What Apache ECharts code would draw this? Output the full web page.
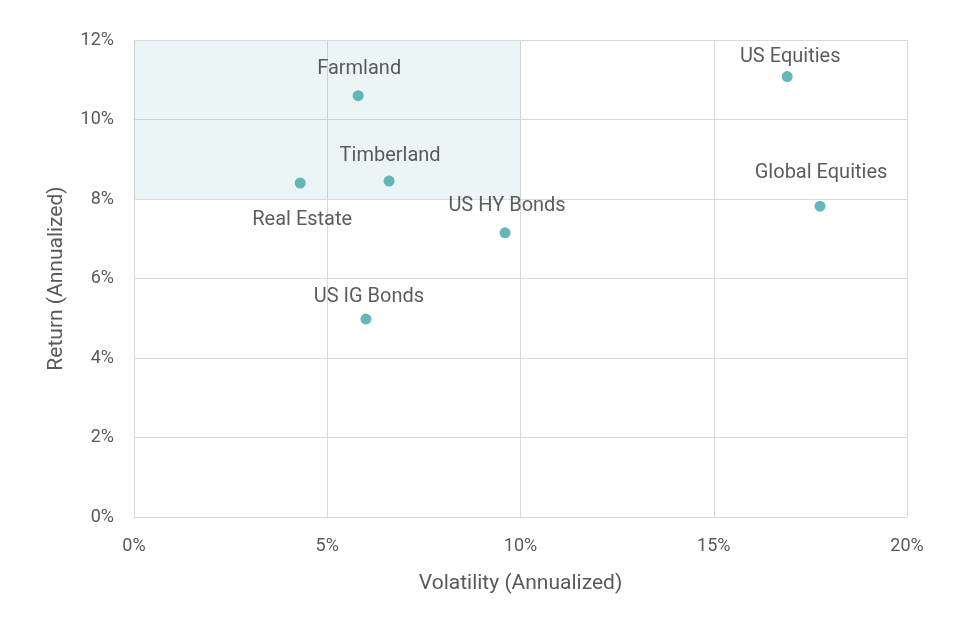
<!DOCTYPE html>
<html>
<head>
<meta charset="utf-8">
<script src="https://cdn.jsdelivr.net/npm/echarts@6/dist/echarts.min.js"></script>
<style>
  html, body { margin: 0; padding: 0; background: #fff; }
  #main { width: 974px; height: 626px; }
</style>
</head>
<body>
<div id="main"></div>
<script>
// asset classes, volatility and return (annualized, %)
var names = ['Farmland', 'Timberland', 'Real Estate', 'US HY Bonds', 'US IG Bonds', 'US Equities', 'Global Equities'];
var volatility = [5.8, 6.6, 4.3, 9.6, 6.0, 16.9, 17.75];
var returns = [10.6, 8.45, 8.4, 7.15, 4.98, 11.08, 7.82];

var xTicks = [0, 5, 10, 15, 20];
var yTicks = [0, 2, 4, 6, 8, 10, 12];

// label placement for each point
var labelPos = {
  'Farmland': ['top', [1, -6]],
  'Timberland': ['top', [1, -5]],
  'Real Estate': ['bottom', [2, 16]],
  'US HY Bonds': ['top', [2, -6]],
  'US IG Bonds': ['top', [3, -2]],
  'US Equities': ['top', [3, 1]],
  'Global Equities': ['top', [1, -13]]
};

var chart = echarts.init(document.getElementById('main'));

var points = names.map(function (n, i) {
  return {
    name: n,
    value: [volatility[i], returns[i]],
    label: { position: labelPos[n][0], offset: labelPos[n][1] }
  };
});

var font = 'Roboto, "Liberation Sans", sans-serif';

var option = {
  animation: false,
  grid: { left: 134, right: 67, top: 40, bottom: 109, containLabel: false },
  xAxis: {
    type: 'value',
    min: xTicks[0],
    max: xTicks[xTicks.length - 1],
    interval: 5,
    name: 'Volatility (Annualized)',
    nameLocation: 'middle',
    nameGap: 56,
    nameTextStyle: { fontSize: 21, color: '#595959', fontFamily: font },
    axisLine: { show: true, lineStyle: { color: '#d9d9d9' } },
    axisTick: { show: false },
    axisLabel: { formatter: '{value}%', fontSize: 18, color: '#595959', fontFamily: font, margin: 20 },
    splitLine: { show: true, lineStyle: { color: '#d9d9d9' } }
  },
  yAxis: {
    type: 'value',
    min: yTicks[0],
    max: yTicks[yTicks.length - 1],
    interval: 2,
    name: 'Return (Annualized)',
    nameLocation: 'middle',
    nameGap: 67,
    nameTextStyle: { fontSize: 21, color: '#595959', fontFamily: font },
    axisLine: { show: true, lineStyle: { color: '#d9d9d9' } },
    axisTick: { show: false },
    axisLabel: { formatter: '{value}%', fontSize: 18, color: '#595959', fontFamily: font, margin: 20 },
    splitLine: { show: true, lineStyle: { color: '#d9d9d9' } }
  },
  series: [{
    type: 'scatter',
    symbolSize: 11,
    itemStyle: { color: '#3fa6a8' },
    label: {
      show: true,
      formatter: '{b}',
      fontSize: 20,
      color: '#333333',
      fontFamily: font
    },
    data: points,
    markArea: {
      silent: true,
      itemStyle: { color: 'rgba(60,160,170,0.1)' },
      data: [[{ coord: [0, 8] }, { coord: [10, 12] }]]
    }
  }, {
    // right/top border of the plot
    type: 'line',
    data: [],
    markLine: {
      silent: true,
      symbol: 'none',
      label: { show: false },
      lineStyle: { color: '#d9d9d9', type: 'solid', width: 1 },
      data: [
        [{ coord: [0, 12] }, { coord: [20, 12] }],
        [{ coord: [20, 0] }, { coord: [20, 12] }]
      ]
    }
  }]
};

chart.setOption(option);
</script>
</body>
</html>
